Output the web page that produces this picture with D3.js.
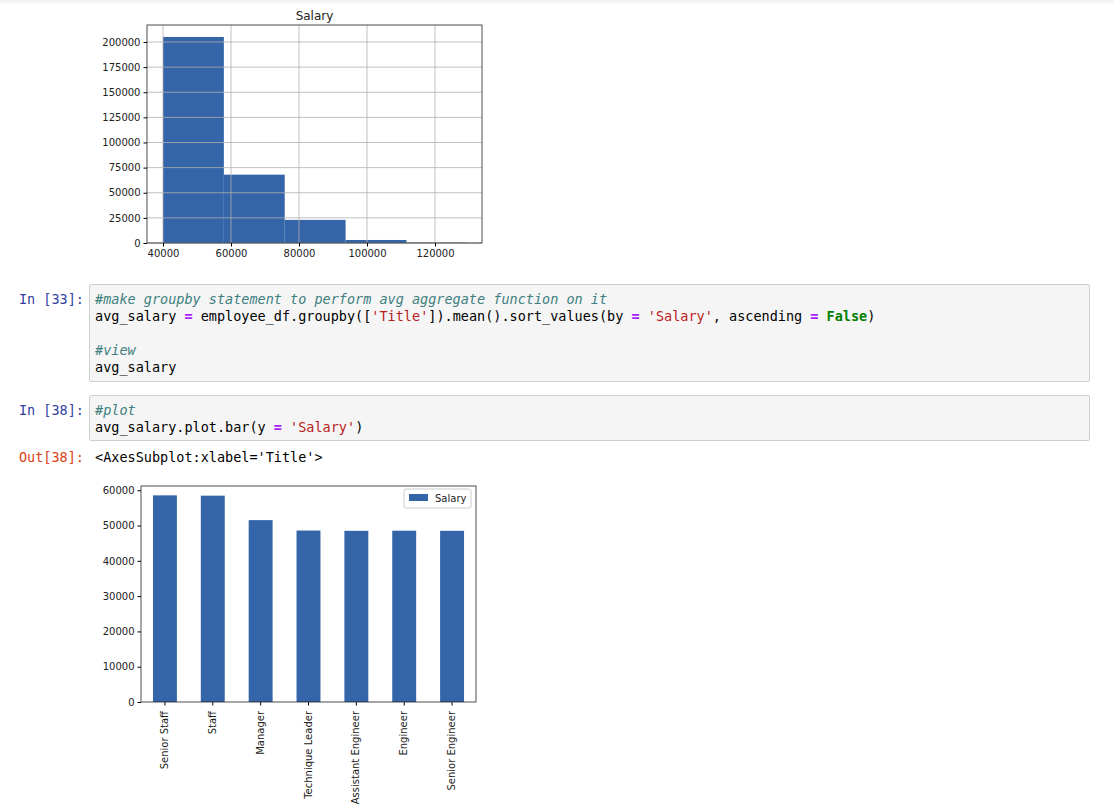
<!DOCTYPE html>
<html><head><meta charset="utf-8">
<script src="https://d3js.org/d3.v7.min.js"></script>
<style>
body{margin:0;background:#fff;width:1113px;height:807px;overflow:hidden;position:relative;font-family:"DejaVu Sans Mono",monospace;}
.prompt{position:absolute;font-size:13.5px;left:0;width:84px;text-align:right;}
.cell{position:absolute;left:89px;width:1001px;background:#f5f5f5;border:1px solid #cfcfcf;border-radius:2px;font-size:13.5px;line-height:17px;padding:6px 5px;box-sizing:border-box;white-space:pre;color:#000;}
.c{color:#408080;font-style:italic}.o{color:#AA22FF;font-weight:bold}.s{color:#BA2121}.k{color:#008000;font-weight:bold}
svg{position:absolute;left:0;top:0}
</style></head><body>
<div style="position:absolute;left:0;top:0;width:1113px;height:5px;background:linear-gradient(#eee,#fff)"></div>
<div class="prompt" style="top:291px;color:#303F9F">In [33]:</div>
<div class="cell" style="top:284px;height:98px"><span class="c">#make groupby statement to perform avg aggregate function on it</span>
avg_salary <span class="o">=</span> employee_df.groupby([<span class="s">'Title'</span>]).mean().sort_values(by <span class="o">=</span> <span class="s">'Salary'</span>, ascending <span class="o">=</span> <span class="k">False</span>)

<span class="c">#view</span>
avg_salary</div>
<div class="prompt" style="top:402px;color:#303F9F">In [38]:</div>
<div class="cell" style="top:395px;height:46px"><span class="c">#plot</span>
avg_salary.plot.bar(y <span class="o">=</span> <span class="s">'Salary'</span>)</div>
<div class="prompt" style="top:449px;color:#D84315">Out[38]:</div>
<div style="position:absolute;left:95px;top:449px;font-size:13.5px;">&lt;AxesSubplot:xlabel='Title'&gt;</div>
<svg id="svg" width="1113" height="807"></svg>
<script>
const histEdges=[40000,57900,75800,93700,111600,129500];
const histCounts=[205000,68000,23000,3000,300];
const histXTicks=[40000,60000,80000,100000,120000];
const histYTicks=[0,25000,50000,75000,100000,125000,150000,175000,200000];
const titles=["Senior Staff","Staff","Manager","Technique Leader","Assistant Engineer","Engineer","Senior Engineer"];
const salaries=[58550,58465,51531,48583,48493,48535,48507];
const barYTicks=[0,10000,20000,30000,40000,50000,60000];
const blue="#3465a8";
const svg=d3.select("#svg");
const font="DejaVu Sans, sans-serif";

// histogram
{
const L=147,R=482,T=25,B=243;
const x=d3.scaleLinear().domain([35294,133824]).range([L,R]);
const y=d3.scaleLinear().domain([0,216900]).range([B,T]);
const g=svg.append("g");
g.selectAll(".r").data(histCounts).enter().append("rect")
 .attr("x",(d,i)=>x(histEdges[i])).attr("width",(d,i)=>x(histEdges[i+1])-x(histEdges[i]))
 .attr("y",d=>y(d)).attr("height",d=>B-y(d)).attr("fill",blue);
g.selectAll(".gx").data(histXTicks).enter().append("line").attr("x1",d=>x(d)).attr("x2",d=>x(d)).attr("y1",T).attr("y2",B).attr("stroke","#b0b0b0").attr("stroke-width",0.8);
g.selectAll(".gy").data(histYTicks).enter().append("line").attr("y1",d=>y(d)).attr("y2",d=>y(d)).attr("x1",L).attr("x2",R).attr("stroke","#b0b0b0").attr("stroke-width",0.8);
const ax=g.append("g").attr("transform",`translate(0,${B})`).call(d3.axisBottom(x).tickValues(histXTicks).tickFormat(d3.format("d")).tickSize(3.5).tickPadding(3));
const ay=g.append("g").attr("transform",`translate(${L},0)`).call(d3.axisLeft(y).tickValues(histYTicks).tickFormat(d3.format("d")).tickSize(3.5).tickPadding(3));
[ax,ay].forEach(a=>{a.select(".domain").remove();a.selectAll("text").attr("font-family",font).attr("font-size","10px").attr("fill","#222");});
g.append("rect").attr("x",L).attr("y",T).attr("width",R-L).attr("height",B-T).attr("fill","none").attr("stroke","#222").attr("stroke-width",0.8);
g.append("text").attr("x",(L+R)/2).attr("y",T-5).attr("text-anchor","middle").attr("font-family",font).attr("font-size","12px").attr("fill","#222").text("Salary");
}
// bar chart
{
const L=141,R=476,T=486,B=702;
const x=d3.scaleBand().domain(titles).range([L,R]).paddingInner(0.5).paddingOuter(0.25);
const y=d3.scaleLinear().domain([0,61200]).range([B,T]);
const g=svg.append("g");
g.selectAll("rect.b").data(salaries).enter().append("rect")
 .attr("x",(d,i)=>x(titles[i])).attr("width",x.bandwidth()).attr("y",d=>y(d)).attr("height",d=>B-y(d)).attr("fill",blue);
const ax=g.append("g").attr("transform",`translate(0,${B})`).call(d3.axisBottom(x).tickSize(3.5).tickPadding(3));
ax.selectAll("text").attr("transform","rotate(-90)").attr("text-anchor","end").attr("dx","-0.6em").attr("dy","-0.35em").attr("y",0).attr("x",-3).style("dominant-baseline","middle").attr("dy",null);
const ay=g.append("g").attr("transform",`translate(${L},0)`).call(d3.axisLeft(y).tickValues(barYTicks).tickFormat(d3.format("d")).tickSize(3.5).tickPadding(3));
[ax,ay].forEach(a=>{a.select(".domain").remove();a.selectAll("text").attr("font-family",font).attr("font-size","10px").attr("fill","#222");});
g.append("rect").attr("x",L).attr("y",T).attr("width",R-L).attr("height",B-T).attr("fill","none").attr("stroke","#222").attr("stroke-width",0.8);
const lg=g.append("g");
lg.append("rect").attr("x",404).attr("y",489).attr("width",67).attr("height",19).attr("rx",2).attr("fill","#fff").attr("stroke","#ccc");
lg.append("rect").attr("x",409).attr("y",494).attr("width",19).attr("height",7).attr("fill",blue);
lg.append("text").attr("x",435).attr("y",502).attr("font-family",font).attr("font-size","10px").attr("fill","#222").text("Salary");
}
</script>
</body></html>
